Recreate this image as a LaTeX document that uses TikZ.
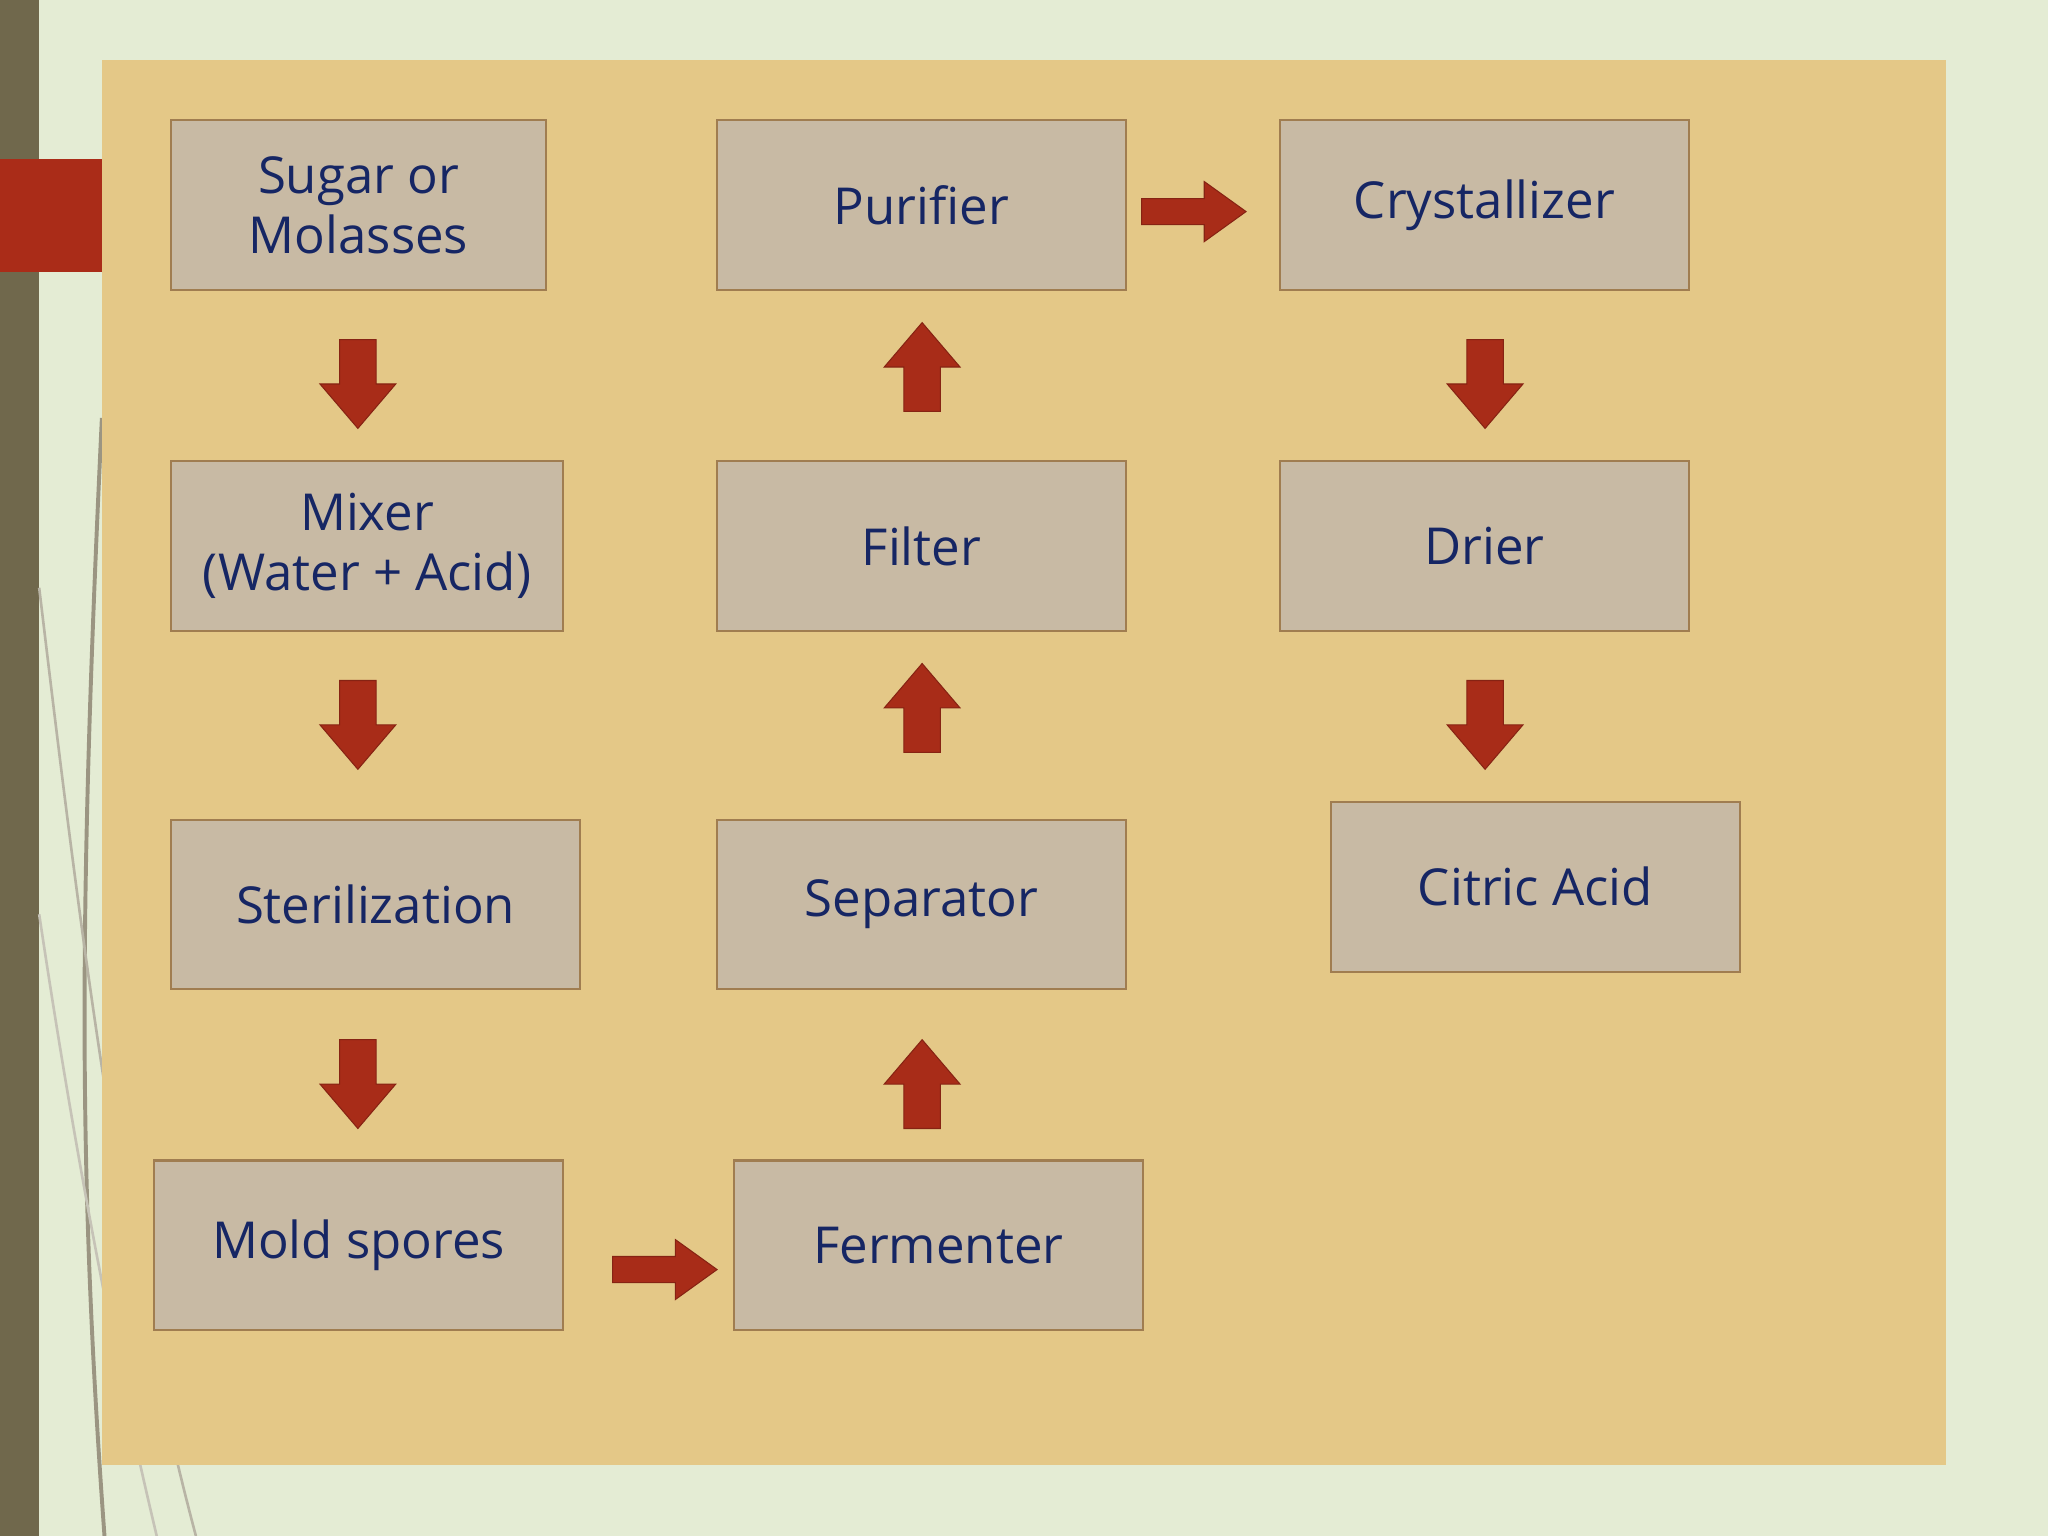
\documentclass[tikz,border=0pt]{standalone}
\usepackage{fontspec}
\setmainfont{Open Sans}
\begin{document}
\begin{tikzpicture}[x=0.5pt,y=-0.5pt,
  box/.style={draw=boxedge,fill=boxfill,line width=0.8pt,inner sep=0pt,minimum width=156.5pt,minimum height=65pt,text=txt,font=\fontsize{19.5}{23}\selectfont,align=center},
  arr/.style={fill=arrc,draw=arrc!80!black,line width=0.4pt}]
\definecolor{bg}{RGB}{228,236,212}
\definecolor{panel}{RGB}{228,200,135}
\definecolor{boxfill}{RGB}{200,186,164}
\definecolor{boxedge}{RGB}{160,125,80}
\definecolor{txt}{RGB}{22,38,100}
\definecolor{arrc}{RGB}{168,44,24}
\definecolor{olive}{RGB}{112,104,76}
\definecolor{redsq}{RGB}{170,44,24}
\useasboundingbox (0,0) rectangle (1568,1176);
\fill[bg] (0,0) rectangle (1568,1176);
\fill[olive] (0,0) rectangle (30,1176);
% decorative curves
\draw[olive!70,line width=1.5pt] (78,320) .. controls (60,700) and (60,900) .. (80,1176);
\draw[olive!50,line width=1pt] (30,450) .. controls (60,700) and (90,950) .. (150,1176);
\draw[olive!40,line width=1pt] (30,700) .. controls (60,900) and (90,1050) .. (120,1176);
\fill[panel] (78,46) rectangle (1490,1122);
\fill[redsq] (0,122) rectangle (78,208);
% boxes
\node[box,minimum width=143.5pt] (sugar) at (274.5,157) {Sugar or\\Molasses};
\node[box] (purifier) at (705.5,157) {Purifier};
\node[box] (cryst) at (1136.5,157) {Crystallizer};
\node[box,minimum width=150pt] (mixer) at (281,418) {Mixer\\(Water + Acid)};
\node[box] (filter) at (705.5,418) {Filter};
\node[box] (drier) at (1136.5,418) {Drier};
\node[box] (steril) at (287.5,692.5) {Sterilization};
\node[box] (sep) at (705.5,692.5) {Separator};
\node[box] (citric) at (1175.5,679) {Citric Acid};
\node[box] (mold) at (274.5,953.5) {Mold spores};
\node[box] (ferm) at (718.5,953.5) {Fermenter};
% block arrows
\newcommand\downarr[2]{\begin{scope}[shift={(#1,#2)}]\filldraw[arr] (-14,-34)--(14,-34)--(14,0)--(29,0)--(0,34)--(-29,0)--(-14,0)--cycle;\end{scope}}
\newcommand\uparr[2]{\begin{scope}[shift={(#1,#2)}]\filldraw[arr] (-14,34)--(14,34)--(14,0)--(29,0)--(0,-34)--(-29,0)--(-14,0)--cycle;\end{scope}}
\newcommand\rightarr[2]{\begin{scope}[shift={(#1,#2)}]\filldraw[arr] (-40,-10)--(8,-10)--(8,-23)--(40,0)--(8,23)--(8,10)--(-40,10)--cycle;\end{scope}}
\downarr{274}{294}
\downarr{274}{555}
\downarr{274}{830}
\uparr{706}{281}
\uparr{706}{542}
\uparr{706}{830}
\downarr{1137}{294}
\downarr{1137}{555}
\rightarr{914}{162}
\rightarr{509}{972}
\end{tikzpicture}
\end{document}
